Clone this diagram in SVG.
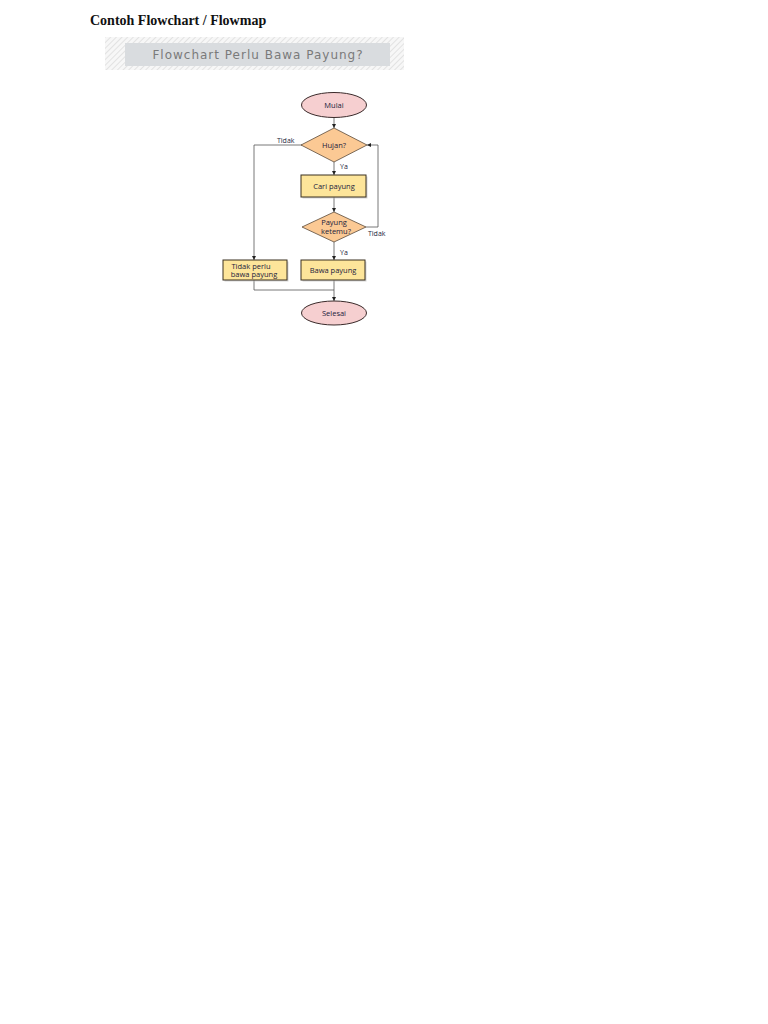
<svg xmlns="http://www.w3.org/2000/svg" width="768" height="1024" viewBox="0 0 768 1024">
<style>
.title{font-family:"Liberation Serif",serif;font-size:14px;font-weight:bold;fill:#111}
.banner{font-family:"DejaVu Sans",sans-serif;font-size:12px;fill:#7a7a7a;letter-spacing:1px}
.lbl{font-family:"Open Sans","Liberation Sans",sans-serif;font-size:7.5px;fill:#1c1c3c;text-anchor:middle}
.elab{font-family:"Open Sans","Liberation Sans",sans-serif;font-size:7px;fill:#1c1c3c}
.term{fill:#f6cfd0;stroke:#3a2a2a;stroke-width:1}
.dec{fill:#fbc994;stroke:#5a4a3a;stroke-width:0.8}
.proc{fill:#fde59a;stroke:#3a3020;stroke-width:1}
.shadow{fill:#bbb;opacity:0.6}
.conn{fill:none;stroke:#555;stroke-width:0.8}
</style>
<defs>
<pattern id="hatch" width="4" height="4" patternUnits="userSpaceOnUse" patternTransform="rotate(45)">
<rect width="4" height="4" fill="#f7f7f7"/>
<line x1="0" y1="0" x2="0" y2="4" stroke="#dcdcdc" stroke-width="1.5"/>
</pattern>
<marker id="arr" viewBox="0 0 10 10" refX="10" refY="5" markerWidth="5" markerHeight="5" orient="auto">
<path d="M0,0 L10,5 L0,10 z" fill="#222"/>
</marker>
</defs>
<rect width="768" height="1024" fill="#fff"/>
<text class="title" x="90" y="25">Contoh Flowchart / Flowmap</text>
<g id="banner">
<rect x="105" y="37" width="299" height="33" fill="url(#hatch)"/>
<rect x="125" y="43" width="265" height="23" fill="#d9dcdf"/>
<text class="banner" x="258" y="59" text-anchor="middle">Flowchart Perlu Bawa Payung?</text>
</g>
<g id="connectors">
<line class="conn" x1="334" y1="117" x2="334" y2="128" marker-end="url(#arr)"/>
<line class="conn" x1="334" y1="162" x2="334" y2="175" marker-end="url(#arr)"/>
<line class="conn" x1="334" y1="197" x2="334" y2="212" marker-end="url(#arr)"/>
<line class="conn" x1="334" y1="242" x2="334" y2="260" marker-end="url(#arr)"/>
<polyline class="conn" points="302,145 254,145 254,260" marker-end="url(#arr)"/>
<polyline class="conn" points="366,227 378,227 378,145 367,145" marker-end="url(#arr)"/>
<polyline class="conn" points="254,280 254,290 334,290"/>
<line class="conn" x1="334" y1="280" x2="334" y2="301" marker-end="url(#arr)"/>
<text class="elab" x="277" y="143">Tidak</text>
<text class="elab" x="340" y="169">Ya</text>
<text class="elab" x="368" y="236">Tidak</text>
<text class="elab" x="340" y="255">Ya</text>
</g>
<g id="mulai">
<ellipse class="term" cx="334" cy="105" rx="32.5" ry="12.5"/>
<text class="lbl" x="334" y="107.5">Mulai</text>
</g>
<g id="hujan">
<polygon class="dec" points="334,128 367,145 334,162 301,145"/>
<text class="lbl" x="334" y="147.5">Hujan?</text>
</g>
<g id="cari">
<rect class="shadow" x="302.5" y="176.5" width="65" height="22"/>
<rect class="proc" x="301" y="175" width="65" height="22"/>
<text class="lbl" x="334" y="188.5">Cari payung</text>
</g>
<g id="ketemu">
<polygon class="dec" points="334,212 366,227 334,242 302,227"/>
<text class="lbl" x="334" y="225">Payung</text>
<text class="lbl" x="336" y="233.5">ketemu?</text>
</g>
<g id="tidakperlu">
<rect class="shadow" x="224.5" y="261.5" width="64" height="20"/>
<rect class="proc" x="223" y="260" width="64" height="20"/>
<text class="lbl" x="251" y="268.5">Tidak perlu</text>
<text class="lbl" x="254" y="276.5">bawa payung</text>
</g>
<g id="bawa">
<rect class="shadow" x="302.5" y="261.5" width="64" height="20"/>
<rect class="proc" x="301" y="260" width="64" height="20"/>
<text class="lbl" x="333" y="272.5">Bawa payung</text>
</g>
<g id="selesai">
<ellipse class="term" cx="334" cy="313" rx="32.5" ry="12"/>
<text class="lbl" x="334" y="315.5">Selesai</text>
</g>
</svg>
